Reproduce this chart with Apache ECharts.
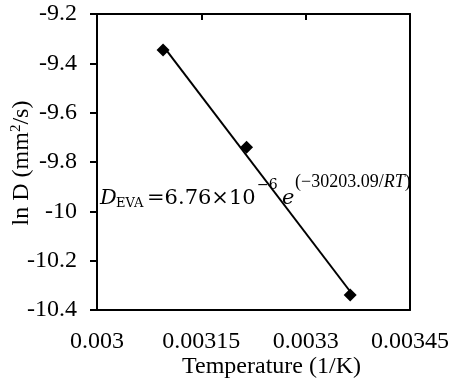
<!DOCTYPE html>
<html>
<head>
<meta charset="utf-8">
<script src="https://cdn.jsdelivr.net/npm/echarts@6/dist/echarts.min.js"></script>
<style>
html,body{margin:0;padding:0;background:#fff;}
#chart{width:474px;height:387px;}
</style>
</head>
<body>
<div id="chart"></div>
<script>
// Data
var invTemperature = [0.003095, 0.003215, 0.003364];   // 1/K
var lnD = [-9.346, -9.740, -10.339];                   // ln D (mm2/s)
var trendX = [0.003095, 0.003364];
var trendY = [-9.329, -10.325];
var xTicks = ['0.003', '0.00315', '0.0033', '0.00345'];
var yTicks = ['-10.4', '-10.2', '-10', '-9.8', '-9.6', '-9.4', '-9.2'];

var serif = '"Liberation Serif", "Times New Roman", serif';
var mathFont = '"DejaVu Serif", serif';

var chart = echarts.init(document.getElementById('chart'), null, {renderer: 'canvas'});

var pts = invTemperature.map(function (x, i) { return [x, lnD[i]]; });
var trend = trendX.map(function (x, i) { return [x, trendY[i]]; });

var xMin = +xTicks[0], xMax = +xTicks[xTicks.length - 1];
var yMin = +yTicks[0], yMax = +yTicks[yTicks.length - 1];

var option = {
  animation: false,
  backgroundColor: '#fff',
  grid: {left: 97, right: 64, top: 14, bottom: 77, containLabel: false, outerBoundsMode: 'none'},
  xAxis: [
    {
      type: 'value', position: 'bottom', min: xMin, max: xMax, interval: 0.00015,
      axisLine: {show: true, onZero: false, lineStyle: {color: '#000', width: 2}},
      axisTick: {show: false},
      splitLine: {show: false},
      axisLabel: {
        color: '#000', fontFamily: serif, fontSize: 24, margin: 20,
        formatter: function (v) { return String(+v.toFixed(6)); }
      }
    },
    {
      type: 'value', position: 'top', min: xMin, max: xMax, interval: 0.00015,
      axisLine: {show: true, onZero: false, lineStyle: {color: '#000', width: 2}},
      axisTick: {show: true, inside: true, length: 6, lineStyle: {color: '#000', width: 2}},
      splitLine: {show: false},
      axisLabel: {show: false}
    }
  ],
  yAxis: [
    {
      type: 'value', position: 'left', min: yMin, max: yMax, interval: 0.2,
      axisLine: {show: true, onZero: false, lineStyle: {color: '#000', width: 2}},
      axisTick: {show: true, inside: false, length: 7, lineStyle: {color: '#000', width: 2}},
      splitLine: {show: false},
      axisLabel: {
        color: '#000', fontFamily: serif, fontSize: 24, margin: 20,
        formatter: function (v) { return String(+v.toFixed(1)); }
      }
    },
    {
      type: 'value', position: 'right', min: yMin, max: yMax, interval: 0.2,
      axisLine: {show: true, onZero: false, lineStyle: {color: '#000', width: 2}},
      axisTick: {show: false},
      splitLine: {show: false},
      axisLabel: {show: false}
    }
  ],
  graphic: [
    {type: 'text', x: 22, y: 163, rotation: Math.PI / 2, z: 1, style: {
      text: '{n|ln D (mm}{s|2}{n|/s)}',
      align: 'center', verticalAlign: 'middle',
      rich: {
        n: {fontFamily: serif, fontSize: 24, fill: '#000', lineHeight: 26, verticalAlign: 'middle'},
        s: {fontFamily: serif, fontSize: 15, fill: '#000', lineHeight: 26, verticalAlign: 'top', padding: [0, 0, 8, 0]}
      }
    }},
    {type: 'text', x: 271.5, y: 367, z: 1, style: {text: 'Temperature (1/K)', fontFamily: serif, fontSize: 24, fill: '#000', align: 'center', verticalAlign: 'middle'}},
    {type: 'text', x: 100, y: 199, z: 1, style: {text: 'D', fontFamily: mathFont, fontStyle: 'italic', fontSize: 21, fill: '#000', align: 'left', verticalAlign: 'middle'}},
    {type: 'text', x: 116, y: 204, z: 1, style: {text: 'EVA', fontFamily: mathFont, fontSize: 13, fill: '#000', align: 'left', verticalAlign: 'middle'}},
    {type: 'text', x: 147, y: 199, z: 1, style: {text: '=6.76×10', fontFamily: mathFont, fontSize: 21, fill: '#000', align: 'left', verticalAlign: 'middle'}},
    {type: 'text', x: 257, y: 185, z: 1, style: {text: '−6', fontFamily: mathFont, fontSize: 14, fill: '#000', align: 'left', verticalAlign: 'middle'}},
    {type: 'text', x: 282, y: 199, z: 1, style: {text: 'e', fontFamily: mathFont, fontStyle: 'italic', fontSize: 21, fill: '#000', align: 'left', verticalAlign: 'middle'}},
    {type: 'text', x: 295, y: 182, z: 1, style: {
      text: '{a|(−30203.09/}{b|RT}{a|)}',
      align: 'left', verticalAlign: 'middle',
      rich: {
        a: {fontFamily: serif, fontSize: 18, fill: '#000'},
        b: {fontFamily: serif, fontSize: 18, fontStyle: 'italic', fill: '#000'}
      }
    }}
  ],
  series: [
    {
      type: 'line', data: trend, xAxisIndex: 0, yAxisIndex: 0,
      showSymbol: false, symbol: 'none', z: 5,
      lineStyle: {color: '#000', width: 2}
    },
    {
      type: 'scatter', data: pts, xAxisIndex: 0, yAxisIndex: 0,
      symbol: 'diamond', symbolSize: 13, z: 6,
      itemStyle: {color: '#000', opacity: 1}
    }
  ]
};
chart.setOption(option);
</script>
</body>
</html>
